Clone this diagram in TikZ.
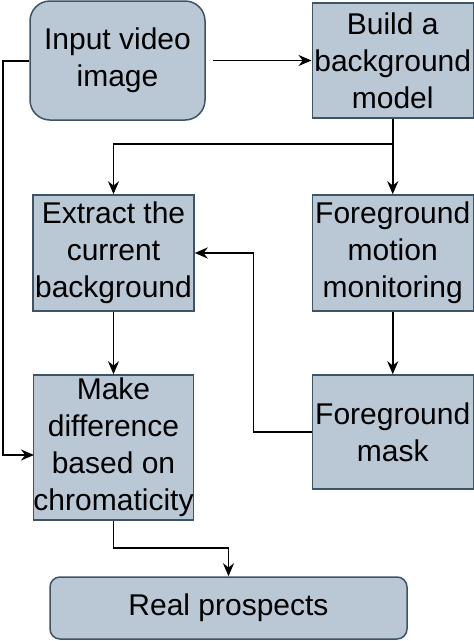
\documentclass[tikz,border=0pt]{standalone}
\usepackage{fontspec}
\setmainfont{Liberation Sans}
\usetikzlibrary{arrows.meta}
\definecolor{boxfill}{HTML}{BAC8D6}
\definecolor{boxline}{HTML}{3D5366}
\begin{document}
\begin{tikzpicture}[x=1pt,y=-1pt,
  box/.style={draw=boxline,fill=boxfill,line width=1.5pt,align=center,inner sep=0pt,
    font=\fontsize{30}{37}\selectfont},
  conn/.style={draw=black,line width=1.8pt,-{Stealth[length=13pt,width=11pt]}},
  link/.style={draw=black,line width=1.8pt}]
\useasboundingbox (0,0) rectangle (474,641);
\node[box,rounded corners=20pt,minimum width=175pt,minimum height=119pt] (in) at (117.5,60.5) {Input video\\image};
\node[box,minimum width=161pt,minimum height=115pt] (bm) at (392.75,60.5) {Build a\\background\\model};
\node[box,minimum width=161pt,minimum height=116pt] (ex) at (113.5,253) {Extract the\\current\\background};
\node[box,minimum width=161pt,minimum height=116pt] (fm) at (392.75,253) {Foreground\\motion\\monitoring};
\node[box,minimum width=159pt,minimum height=145pt] (mk) at (113.5,447.5) {Make\\difference\\based on\\chromaticity};
\node[box,minimum width=161pt,minimum height=114pt] (ms) at (392.75,432) {Foreground\\mask};
\node[box,rounded corners=10pt,minimum width=357pt,minimum height=62pt] (rp) at (228.5,608) {Real prospects};
\coordinate (mkin) at (34,455);
\coordinate (lft) at (3,61);
\draw[conn,shorten <=7pt] (in.east) -- (bm.west);
\draw[conn] (in.west |- lft) -- (lft) |- (mkin);
\draw[conn] (bm.south) -- ++(0,25) -| (ex.north);
\draw[conn] (bm.south) -- (fm.north);
\draw[conn] (ex.south) -- (mk.north);
\draw[conn] (fm.south) -- (ms.north);
\draw[conn] (ms.west) -- ++(-58,0) |- (ex.east);
\draw[conn] (mk.south) -- ++(0,27) -| (rp.north);
\end{tikzpicture}
\end{document}
